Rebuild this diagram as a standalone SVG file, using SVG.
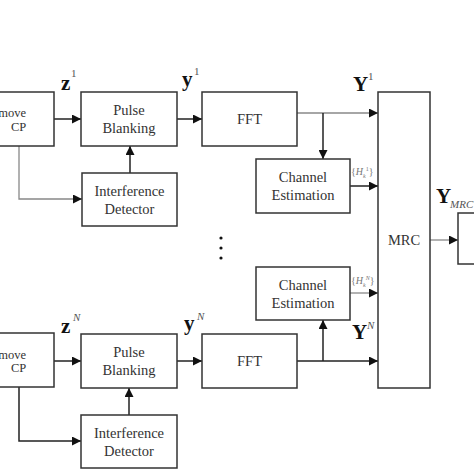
<svg xmlns="http://www.w3.org/2000/svg" width="474" height="474" viewBox="0 0 474 474">
<defs>
<marker id="ah" viewBox="0 0 10 10" refX="10" refY="5" markerWidth="10" markerHeight="9" markerUnits="userSpaceOnUse" orient="auto">
<path d="M0,0 L10,5 L0,10 z" fill="#111"/>
</marker>
<style>
.box{fill:#fff;stroke:#333;stroke-width:1.5}
.t{font-family:"Liberation Serif","Times New Roman",serif;font-size:14.5px;fill:#333;text-anchor:middle}
.ts{font-family:"Liberation Serif","Times New Roman",serif;font-size:12.5px;fill:#333}
.c{fill:none;stroke:#222;stroke-width:1.5}
.cg{fill:none;stroke:#888;stroke-width:1.3}
.lab{font-family:"Liberation Serif","Times New Roman",serif;font-size:21px;font-weight:bold;fill:#111}
.sup{font-family:"Liberation Serif","Times New Roman",serif;font-size:11px;fill:#555}
.sub{font-family:"Liberation Serif","Times New Roman",serif;font-size:11px;font-style:italic;fill:#555}
.h{font-family:"Liberation Serif","Times New Roman",serif;font-size:10px;fill:#777}
</style>
</defs>
<rect width="474" height="474" fill="#fff"/>
<g id="connectors">
<line class="c" x1="54" y1="119" x2="81" y2="119" marker-end="url(#ah)"/>
<polyline class="cg" points="19,146 19,199 82,199" marker-end="url(#ah)"/>
<line class="c" x1="130" y1="173" x2="130" y2="146" marker-end="url(#ah)"/>
<line class="c" x1="177" y1="119" x2="202" y2="119" marker-end="url(#ah)"/>
<line class="cg" x1="297" y1="113" x2="378" y2="113" marker-end="url(#ah)"/>
<line class="c" x1="323" y1="113" x2="323" y2="159" marker-end="url(#ah)"/>
<line class="c" x1="350" y1="186" x2="378" y2="186" marker-end="url(#ah)"/>
<line class="cg" x1="430" y1="240" x2="458" y2="240" marker-end="url(#ah)"/>
<line class="c" x1="54" y1="361" x2="81" y2="361" marker-end="url(#ah)"/>
<polyline class="c" points="19,387 19,441 81,441" marker-end="url(#ah)"/>
<line class="c" x1="129" y1="415" x2="129" y2="388" marker-end="url(#ah)"/>
<line class="c" x1="177" y1="361" x2="202" y2="361" marker-end="url(#ah)"/>
<line class="c" x1="297" y1="361" x2="378" y2="361" marker-end="url(#ah)"/>
<line class="c" x1="323" y1="361" x2="323" y2="320" marker-end="url(#ah)"/>
<line class="cg" x1="350" y1="293" x2="378" y2="293" marker-end="url(#ah)"/>
</g>
<g id="rcp1"><rect class="box" x="-40" y="92" width="94" height="54"/><text class="ts" x="26" y="117" text-anchor="end">Remove</text><text class="ts" x="11" y="131">CP</text></g>
<g id="pb1"><rect class="box" x="81" y="92" width="96" height="54"/><text class="t" x="129" y="115">Pulse</text><text class="t" x="129" y="133">Blanking</text></g>
<g id="id1"><rect class="box" x="82" y="173" width="95" height="53"/><text class="t" x="129.5" y="196">Interference</text><text class="t" x="129.5" y="214">Detector</text></g>
<g id="fft1"><rect class="box" x="202" y="92" width="95" height="54"/><text class="t" x="249.5" y="124">FFT</text></g>
<g id="ce1"><rect class="box" x="256" y="159" width="94" height="54"/><text class="t" x="303" y="182">Channel</text><text class="t" x="303" y="200">Estimation</text></g>
<g id="mrc"><rect class="box" x="378" y="92" width="52" height="296"/><text class="t" x="404" y="245">MRC</text></g>
<g id="out"><rect class="box" x="458" y="213" width="40" height="51"/></g>
<g id="rcp2"><rect class="box" x="-40" y="333" width="94" height="54"/><text class="ts" x="26" y="359" text-anchor="end">Remove</text><text class="ts" x="11" y="372">CP</text></g>
<g id="pb2"><rect class="box" x="81" y="334" width="96" height="54"/><text class="t" x="129" y="357">Pulse</text><text class="t" x="129" y="375">Blanking</text></g>
<g id="id2"><rect class="box" x="81" y="415" width="96" height="53"/><text class="t" x="129" y="438">Interference</text><text class="t" x="129" y="456">Detector</text></g>
<g id="fft2"><rect class="box" x="202" y="334" width="95" height="54"/><text class="t" x="249.5" y="366">FFT</text></g>
<g id="ce2"><rect class="box" x="256" y="267" width="94" height="53"/><text class="t" x="303" y="290">Channel</text><text class="t" x="303" y="308">Estimation</text></g>
<g id="labels">
<text class="lab" x="61" y="90">z</text><text class="sup" x="71" y="77">1</text>
<text class="lab" x="182" y="86">y</text><text class="sup" x="194" y="75">1</text>
<text class="lab" x="353" y="91">Y</text><text class="sup" x="368" y="80">1</text>
<text class="h" x="351" y="175">{<tspan font-style="italic">H</tspan><tspan font-size="6" dy="3" font-style="italic">k</tspan><tspan font-size="6" dy="-7">1</tspan><tspan dy="4">}</tspan></text>
<text class="h" x="351" y="284">{<tspan font-style="italic">H</tspan><tspan font-size="6" dy="3" font-style="italic">k</tspan><tspan font-size="6" dy="-7" font-style="italic">N</tspan><tspan dy="4">}</tspan></text>
<text class="lab" x="436" y="203">Y</text><text class="sub" x="450" y="208">MRC</text>
<text class="lab" x="61" y="333">z</text><text class="sup" x="73" y="321" font-style="italic">N</text>
<text class="lab" x="184" y="330">y</text><text class="sup" x="197" y="320" font-style="italic">N</text>
<text class="lab" x="352" y="339">Y</text><text class="sup" x="367" y="329" font-style="italic">N</text>
<circle cx="221" cy="238" r="1.6" fill="#111"/><circle cx="221" cy="248" r="1.6" fill="#111"/><circle cx="221" cy="258" r="1.6" fill="#111"/>
</g>
</svg>
